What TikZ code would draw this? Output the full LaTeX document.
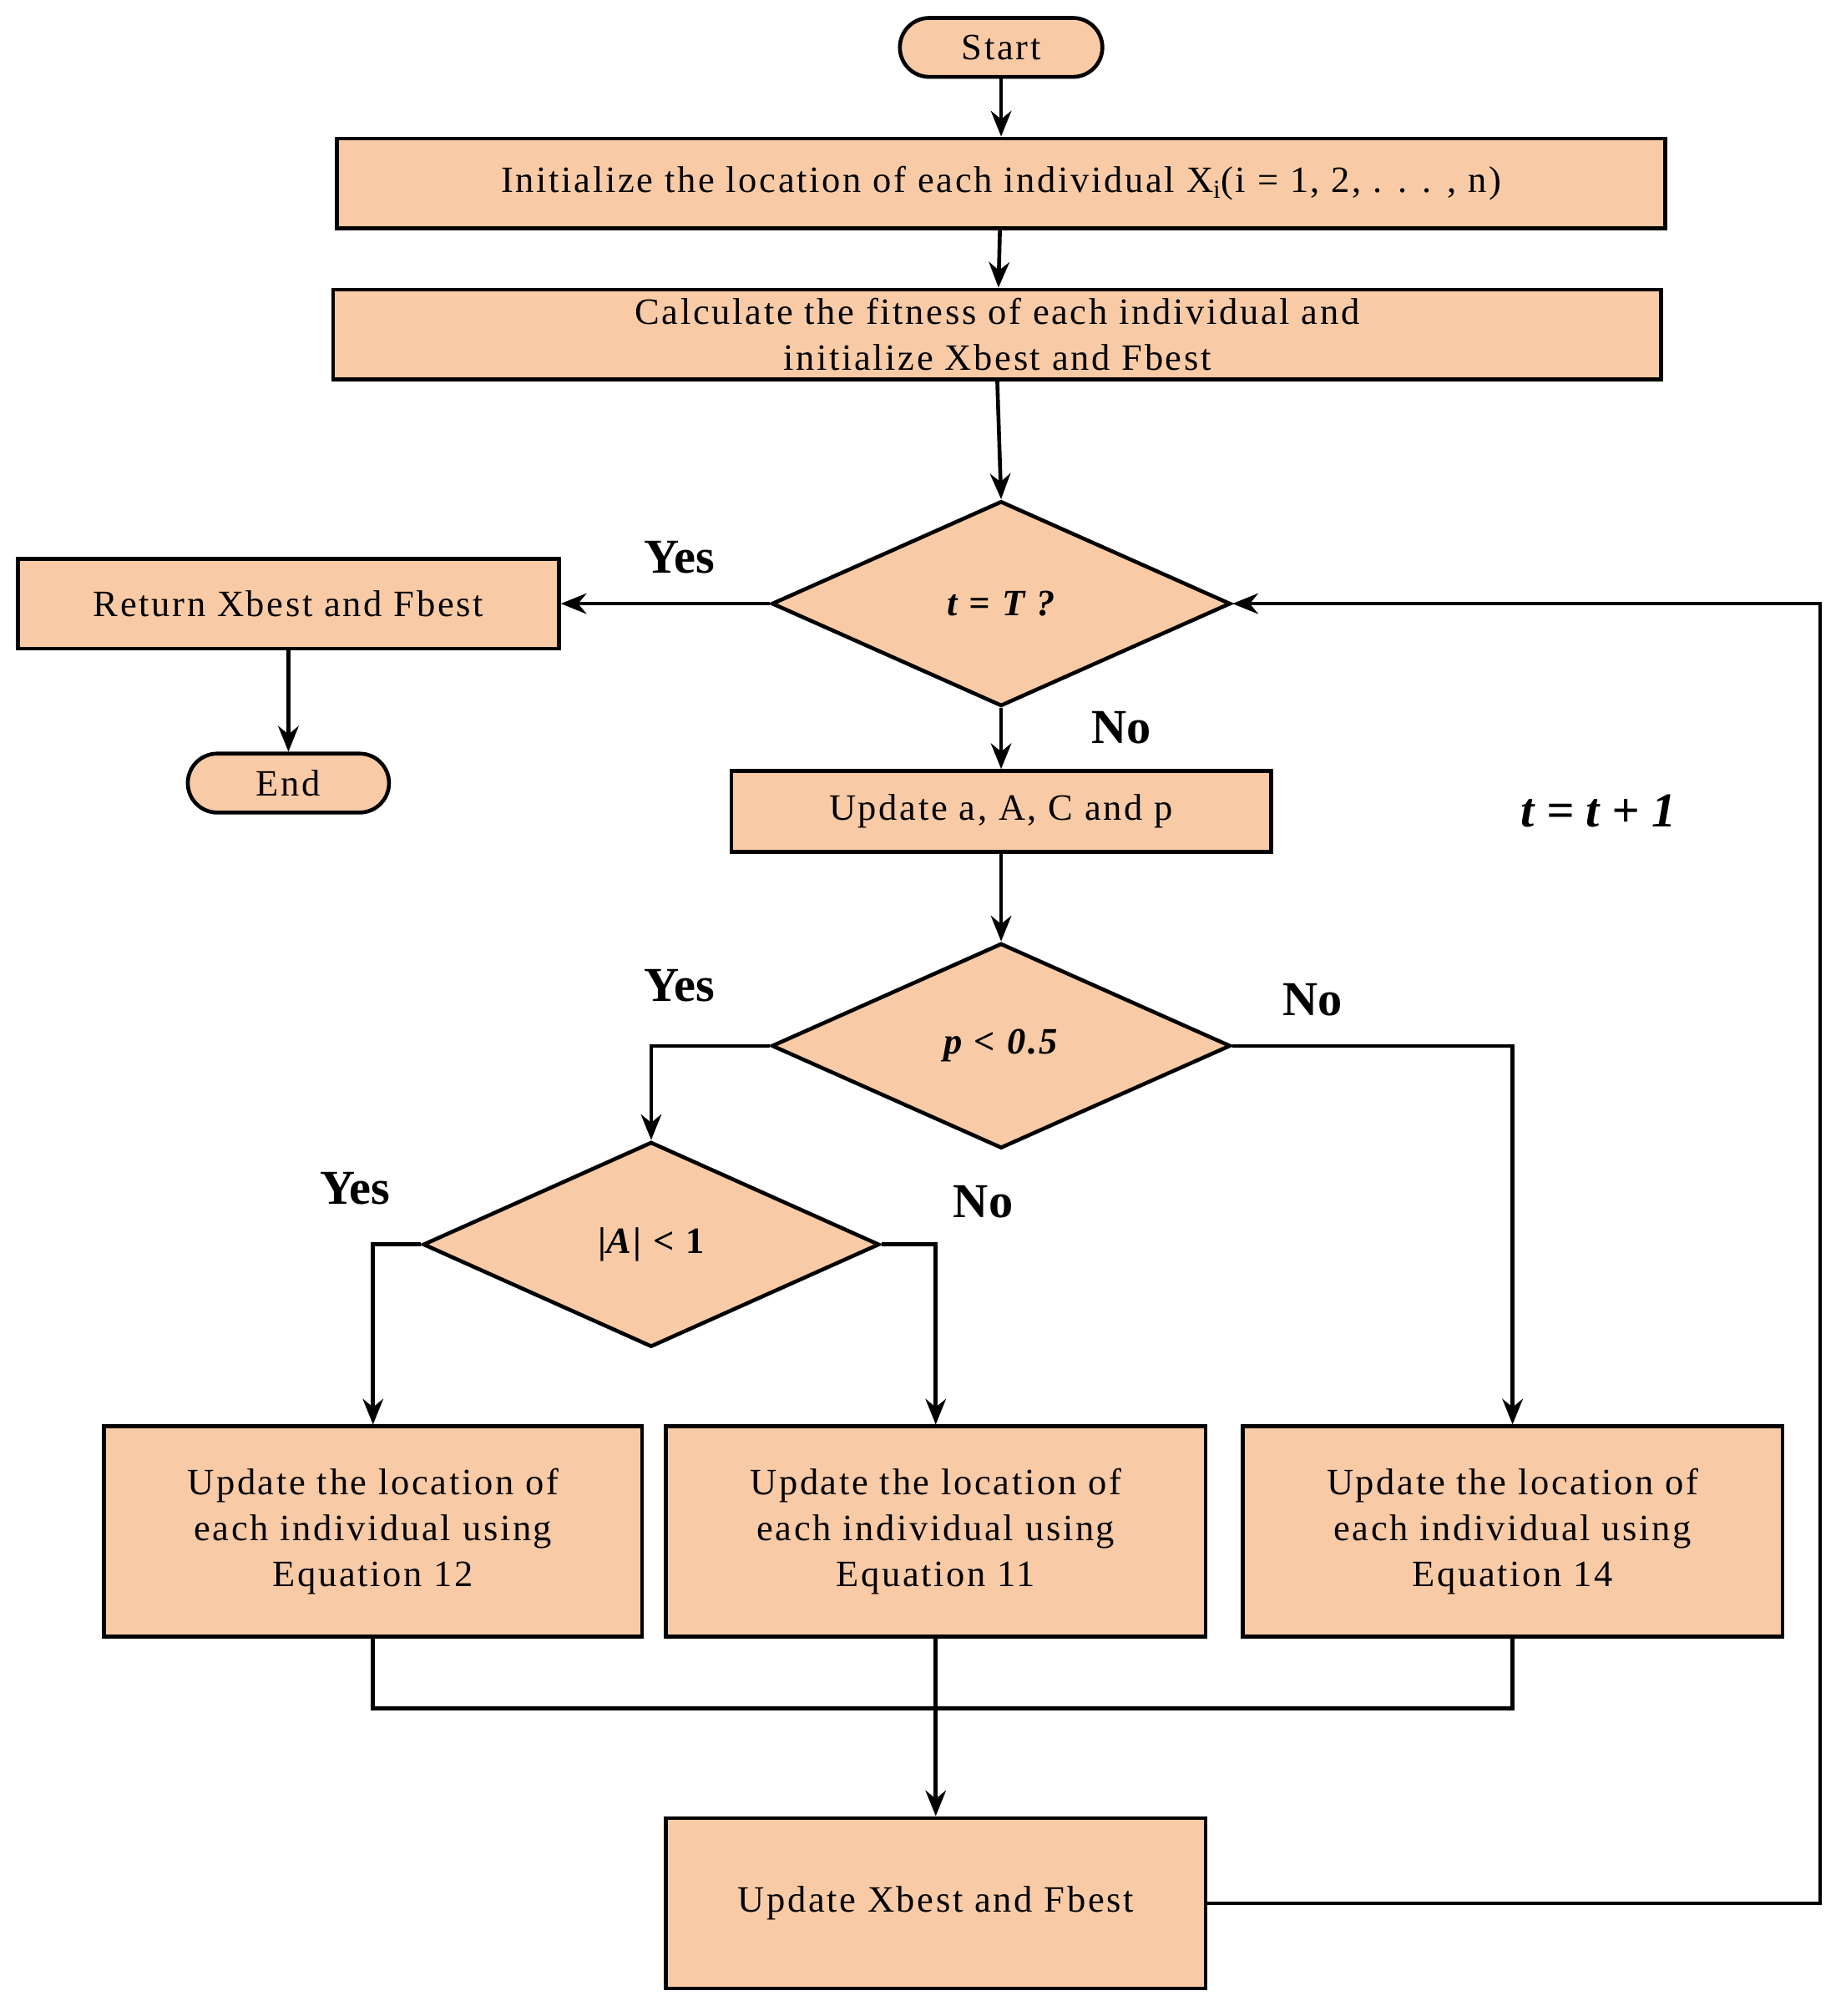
\documentclass[tikz,border=0pt]{standalone}
\usepackage{fontspec}
\setmainfont{Liberation Serif}[LetterSpace=6]
\newfontfamily\lbl{Liberation Serif}
\usetikzlibrary{shapes.geometric,arrows.meta}
\definecolor{peach}{HTML}{F8CBA6}
\begin{document}
\begin{tikzpicture}[x=1pt,y=-1pt,
 box/.style={draw,fill=peach,line width=3pt,inner sep=0pt,align=center,font=\fontsize{29}{36}\selectfont},
 dia/.style={diamond,draw,fill=peach,line width=3pt,inner sep=0pt,font=\fontsize{29}{36}\selectfont\bfseries\itshape},
 term/.style={draw,fill=peach,line width=3pt,rounded corners=23pt,font=\fontsize{29}{36}\selectfont},
 lab/.style={font=\lbl\fontsize{38}{40}\selectfont\bfseries},
 arr/.style={line width=3pt,-{Stealth[length=20pt,width=16pt]}},
 ln/.style={line width=3pt}]
\useasboundingbox (0,0) rectangle (1440,1573);
\node[term,minimum width=158pt,minimum height=46pt] (start) at (781,37) {Start};
\node[box,minimum width=1036pt,minimum height=70pt] (init) at (781,143) {Initialize the location of each individual X\textsubscript{i}(i = 1, 2, . . . , n)};
\node[box,minimum width=1036pt,minimum height=70pt] (calc) at (778,261) {Calculate the fitness of each individual and\\initialize Xbest and Fbest};
\node[dia,minimum width=358pt,minimum height=160pt] (d1) at (781,471) {t = T ?};
\node[box,minimum width=422pt,minimum height=70pt] (ret) at (225,471) {Return Xbest and Fbest};
\node[term,minimum width=157pt,minimum height=46pt] (end) at (225,611) {End};
\node[box,minimum width=421pt,minimum height=63pt] (upd) at (781,633) {Update a, A, C and p};
\node[dia,minimum width=358pt,minimum height=160pt] (d2) at (781,816) {p < 0.5};
\node[dia,minimum width=356pt,minimum height=160pt,font=\fontsize{29}{36}\selectfont\bfseries] (d3) at (508,971) {|\textit{A}| < 1};
\node[box,minimum width=420pt,minimum height=164pt] (b12) at (291,1195) {Update the location of\\each individual using\\Equation 12};
\node[box,minimum width=421pt,minimum height=164pt] (b11) at (730,1195) {Update the location of\\each individual using\\Equation 11};
\node[box,minimum width=421pt,minimum height=164pt] (b14) at (1180,1195) {Update the location of\\each individual using\\Equation 14};
\node[box,minimum width=421pt,minimum height=133pt] (fin) at (730,1485) {Update Xbest and Fbest};
\coordinate (m) at (730,1333);
\coordinate (loop) at (1420,1485);
\draw[arr] (start) -- (init);
\draw[arr] (init) -- (calc);
\draw[arr] (calc.south) -- (d1.north);
\draw[arr] (d1) -- (ret);
\draw[arr] (ret) -- (end);
\draw[arr] (d1) -- (upd);
\draw[arr] (upd) -- (d2);
\draw[arr] (d2.west) -| (d3.north);
\draw[arr] (d2.east) -| (b14.north);
\draw[arr] (d3.west) -| (b12.north);
\draw[arr] (d3.east) -| (b11.north);
\draw[ln] (b12.south) |- (m) -| (b14.south);
\draw[arr] (b11.south) -- (fin.north);
\draw[arr] (fin.east) -- (loop) |- (d1.east);
\node[lab] (y1) at (530,435) {Yes};
\node[lab] (n1) at (875,568) {No};
\node[lab,font=\lbl\fontsize{38}{40}\selectfont\bfseries\itshape] (tt) at (1247,633) {t = t + 1};
\node[lab] (y2) at (530,769) {Yes};
\node[lab] (n2) at (1024,780) {No};
\node[lab] (y3) at (277,927) {Yes};
\node[lab] (n3) at (767,938) {No};
\end{tikzpicture}
\end{document}
